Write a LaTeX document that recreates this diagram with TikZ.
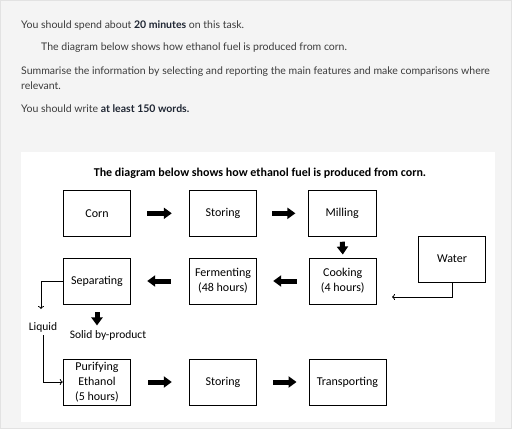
\documentclass[tikz,border=0pt]{standalone}
\usepackage{fontspec}
\setmainfont{Carlito}
\newfontfamily\taskfont{Lato}
\usetikzlibrary{arrows.meta}
\definecolor{pagegrey}{HTML}{F4F4F4}
\definecolor{edgegrey}{HTML}{E2E2E2}
\definecolor{taskgrey}{HTML}{3C3C3C}
\definecolor{taskdark}{HTML}{1F2633}

\begin{document}
\begin{tikzpicture}[x=1pt,y=-1pt,
    box/.style={draw=black, line width=0.9pt, minimum width=67.5pt, minimum height=46pt,
      align=center, inner sep=2pt, font=\fontsize{12}{14.8}\selectfont},
    blockarrow/.style={line width=5pt, -{Triangle[length=8pt,width=11pt]}},
    thinarrow/.style={line width=0.8pt, -{To[length=3pt,width=6pt]}},
    task/.style={anchor=base west, inner sep=0pt, text=taskgrey,
      font=\taskfont\fontsize{10.5}{12}\selectfont}]
  \useasboundingbox (0,0) rectangle (512,429);
  \fill[pagegrey] (0,0) rectangle (512,429);
  \draw[edgegrey, line width=1pt] (0.5,0.5) rectangle (511.5,428.5);
  % task text
  \node[task] (line1) at (21,28) {You should spend about \textcolor{taskdark}{\bfseries 20 minutes} on this task.};
  \node[task] (line2) at (41,50.5) {The diagram below shows how ethanol fuel is produced from corn.};
  \node[task] (line3) at (21,74) {Summarise the information by selecting and reporting the main features and make comparisons where};
  \node[task] (line4) at (21,89.5) {relevant.};
  \node[task] (line5) at (21,112) {You should write \textcolor{taskdark}{\bfseries at least 150 words.}};
  % diagram panel
  \fill[white] (21,152) rectangle (495,422);
  \node[font=\bfseries\fontsize{12}{14}\selectfont] (title) at (260,173)
    {The diagram below shows how ethanol fuel is produced from corn.};
  \node[box] (corn) at (97,213.3) {Corn};
  \node[box] (storing) at (223,213.3) {Storing};
  \node[box] (milling) at (342.3,213.3) {Milling};
  \node[box] (water) at (452,259) {Water};
  \node[box] (separating) at (97,281) {Separating};
  \node[box] (fermenting) at (223,281) {Fermenting\\(48 hours)};
  \node[box] (cooking) at (342.8,281) {Cooking\\(4 hours)};
  \node[box] (purifying) at (97,382) {Purifying\\Ethanol\\(5 hours)};
  \node[box] (storingb) at (223,382) {Storing};
  \node[box, minimum width=77pt] (transporting) at (347.5,382) {Transporting};
  \node[font=\fontsize{11.5}{13}\selectfont, inner sep=0pt] (liquid) at (43,327) {Liquid};
  \node[font=\fontsize{11.5}{13}\selectfont, inner sep=0pt] (solid) at (108,335) {Solid by-product};
  \coordinate (liquidin) at (41,309);
  \coordinate (liquidout) at (43,335);
  \coordinate (waterin) at (392,297);
  % block arrows
  \draw[blockarrow] ([xshift=16pt]corn.east) -- ([xshift=-17pt]storing.west);
  \draw[blockarrow] ([xshift=15pt]storing.east) -- ([xshift=-12.7pt]milling.west);
  \draw[blockarrow] ([yshift=-5pt]milling.south) -- ([yshift=3pt]cooking.north);
  \draw[blockarrow] ([xshift=-12pt]cooking.west) -- ([xshift=16pt]fermenting.east);
  \draw[blockarrow] ([xshift=-18pt]fermenting.west) -- ([xshift=16pt]separating.east);
  \draw[blockarrow] ([yshift=-8pt]separating.south) -- ([yshift=-21pt]separating.south);
  \draw[blockarrow] ([xshift=17pt]purifying.east) -- ([xshift=-17pt]storingb.west);
  \draw[blockarrow] ([xshift=16pt]storingb.east) -- ([xshift=-12pt]transporting.west);
  % thin lines
  \draw[thinarrow] (water.south) |- (waterin);
  \draw[thinarrow] (separating.west) -| (liquidin);
  \draw[thinarrow] (liquidout) |- (purifying.west);
\end{tikzpicture}
\end{document}
